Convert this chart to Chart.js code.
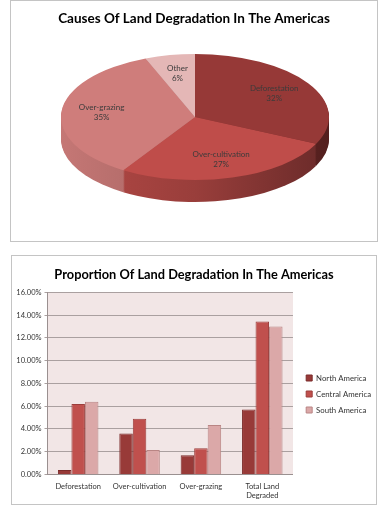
<!DOCTYPE html>
<html>
<head>
<meta charset="utf-8">
<script src="https://cdn.jsdelivr.net/npm/chart.js@4/dist/chart.umd.min.js"></script>
<style>
  html, body { margin: 0; padding: 0; background: #ffffff; }
  body { width: 380px; height: 512px; position: relative; overflow: hidden; }
  .box { position: absolute; border: 1px solid #c4c4c4; background: #fff; box-sizing: border-box; }
  #boxTop { left: 10px; top: 0px; width: 368px; height: 242px; }
  #boxBot { left: 11px; top: 255px; width: 366px; height: 250px; }
  canvas { position: absolute; }
</style>
</head>
<body>
<div class="box" id="boxTop"><canvas id="pie" width="366" height="240" style="left:0;top:0;width:366px;height:240px"></canvas></div>
<div class="box" id="boxBot"><canvas id="bar" width="364" height="248" style="left:0;top:0;width:364px;height:248px"></canvas></div>
<script>
// ---------- data ----------
const pieTitle = 'Causes Of Land Degradation In The Americas';
const pieLabels = ['Deforestation', 'Over-cultivation', 'Over-grazing', 'Other'];
const pieValues = [32, 27, 35, 6];

const barTitle = 'Proportion Of Land Degradation In The Americas';
const barCategories = ['Deforestation', 'Over-cultivation', 'Over-grazing', ['Total Land', 'Degraded']];
const northAmerica = [0.4, 3.6, 1.7, 5.7];
const centralAmerica = [6.2, 4.9, 2.3, 13.45];
const southAmerica = [6.4, 2.15, 4.35, 13.0];
const seriesNames = ['North America', 'Central America', 'South America'];
const yTicksMin = 0, yTicksMax = 16, yTicksStep = 2;

// ---------- styles ----------
const FONT = 'Lato, "Open Sans", sans-serif';
const pieColors = ['#963937', '#bf4d4a', '#cf7d7b', '#e4b7b6'];
const barColors = ['#983a38', '#c0504d', '#dba8a8'];
const barBorders = ['#7a2b2a', '#9c3d3b', '#b98584'];

function shade(hex, f) {
  const n = parseInt(hex.slice(1), 16);
  const r = Math.round(((n >> 16) & 255) * f), g = Math.round(((n >> 8) & 255) * f), b = Math.round((n & 255) * f);
  return 'rgb(' + r + ',' + g + ',' + b + ')';
}

// ---------- 3D pie plugin ----------
const P = { cx: 184, cy: 116, rx: 134, ry: 63, depth: 22, k: 0.7 };
const pie3d = {
  id: 'pie3d',
  beforeDatasetsDraw(chart) {
    const ctx = chart.ctx;
    const meta = chart.getDatasetMeta(0);
    const a0 = meta.data[0];
    const R = a0.outerRadius;
    const grads = pieColors.map(c => {
      const g = ctx.createLinearGradient(P.cx - P.rx, 0, P.cx + P.rx, 0);
      g.addColorStop(0, shade(c, 0.95));
      g.addColorStop(0.5, shade(c, 0.8));
      g.addColorStop(1, shade(c, 0.55));
      return g;
    });
    for (let d = P.depth; d >= 1; d--) {
      meta.data.forEach((arc, i) => {
        ctx.beginPath();
        ctx.moveTo(P.cx, P.cy + d);
        ctx.ellipse(P.cx, P.cy + d, P.rx, P.ry, 0, arc.startAngle, arc.endAngle);
        ctx.closePath();
        ctx.fillStyle = grads[i];
        ctx.fill();
      });
    }
    ctx.save();
    ctx.translate(P.cx, P.cy);
    ctx.scale(P.rx / R, P.ry / R);
    ctx.translate(-a0.x, -a0.y);
  },
  afterDatasetsDraw(chart) {
    const ctx = chart.ctx;
    ctx.restore();
    const meta = chart.getDatasetMeta(0);
    ctx.save();
    ctx.fillStyle = '#3b3b3b';
    ctx.font = '8px ' + FONT;
    ctx.textAlign = 'center';
    ctx.textBaseline = 'middle';
    meta.data.forEach((arc, i) => {
      const mid = (arc.startAngle + arc.endAngle) / 2;
      const x = P.cx + Math.cos(mid) * P.rx * P.k;
      const y = P.cy + Math.sin(mid) * P.ry * P.k;
      ctx.fillText(chart.data.labels[i], x, y - 5);
      ctx.fillText(chart.data.datasets[0].data[i] + '%', x, y + 5);
    });
    ctx.restore();
  }
};

new Chart(document.getElementById('pie'), {
  type: 'pie',
  data: {
    labels: pieLabels,
    datasets: [{ data: pieValues, backgroundColor: pieColors, borderWidth: 0, clip: false }]
  },
  options: {
    responsive: false,
    animation: false,
    layout: { padding: 0 },
    plugins: {
      legend: { display: false },
      tooltip: { enabled: false },
      title: {
        display: true, text: pieTitle, color: '#000',
        font: { family: FONT, size: 13.5, weight: 'bold' },
        padding: { top: 10, bottom: 10 }
      }
    }
  },
  plugins: [pie3d]
});

// ---------- bar chart ----------
const legendShift = {
  id: 'legendShift',
  afterLayout(chart) {
    if (chart.legend) {
      chart.legend.top += 14; chart.legend.bottom += 14;
      chart.legend.left += 5; chart.legend.right += 5;
    }
  }
};

new Chart(document.getElementById('bar'), {
  type: 'bar',
  data: {
    labels: barCategories,
    datasets: [northAmerica, centralAmerica, southAmerica].map((d, i) => ({
      label: seriesNames[i], data: d,
      backgroundColor: barColors[i], borderColor: barBorders[i], borderWidth: 1,
      barPercentage: 1.0, categoryPercentage: 0.66
    }))
  },
  options: {
    responsive: false,
    animation: false,
    layout: { padding: { left: 0, right: 0, top: 0, bottom: 0 } },
    scales: {
      x: {
        grid: { display: false },
        border: { color: '#9a9090', width: 1 },
        ticks: { color: '#333', font: { family: FONT, size: 7.5 }, padding: 0, maxRotation: 0, autoSkip: false },
        afterFit(s) { s.height = 29.5; }
      },
      y: {
        min: yTicksMin, max: yTicksMax,
        grid: { color: '#aaa0a0', lineWidth: 1, tickLength: 3 },
        border: { color: '#9a9090', width: 1 },
        ticks: { stepSize: yTicksStep, color: '#333', font: { family: FONT, size: 7.5 }, padding: 3,
                 callback: v => v.toFixed(2) + '%' },
        afterFit(s) { s.width = 35.5; }
      }
    },
    plugins: {
      tooltip: { enabled: false },
      title: {
        display: true, text: barTitle, color: '#000',
        font: { family: FONT, size: 12.8, weight: 'bold' },
        padding: { top: 11, bottom: 10 }
      },
      legend: {
        position: 'right', align: 'center',
        labels: { color: '#333', font: { family: FONT, size: 7.8 }, boxWidth: 6, boxHeight: 6, padding: 8.2 }
      }
    }
  },
  plugins: [legendShift, {
    id: 'plotBg',
    beforeDraw(chart) {
      const a = chart.chartArea, ctx = chart.ctx;
      ctx.save(); ctx.fillStyle = '#f2e6e6'; ctx.fillRect(a.left, a.top, a.right - a.left, a.bottom - a.top); ctx.restore();
    }
  }]
});
</script>
</body>
</html>
